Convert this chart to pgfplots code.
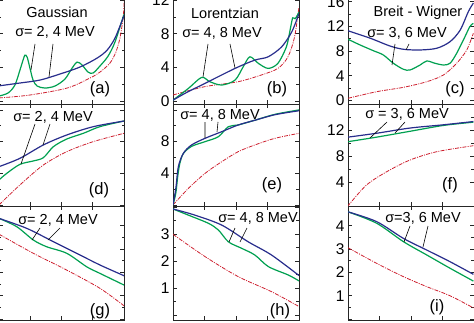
\documentclass[border=0pt]{standalone}
\usepackage{fontspec}
\setmainfont{Liberation Sans}
\usepackage{pgfplots}
\pgfplotsset{compat=1.18}
\definecolor{cb}{RGB}{40,45,140}
\definecolor{cg}{RGB}{0,160,80}
\definecolor{cr}{RGB}{205,30,45}
\pgfplotsset{
 pan/.style={scale only axis, xmin=0, xmax=4, xtick={0,1,2,3,4}, xticklabels={},
  tick align=inside, xtick pos=both, ytick pos=both, yticklabel pos=left,
  minor y tick num=1, major tick length=4pt, minor tick length=2.5pt,
  axis line style={line width=0.9pt, black!85},
  every tick/.style={black!85, line width=0.7pt},
  ticklabel style={font=\fontsize{15.5}{18}\selectfont},
  /pgf/number format/assume math mode=true,
  every axis plot/.append style={smooth, tension=0.5}},
 sb/.style={cb, line width=1.2pt},
 sg/.style={cg, line width=1.2pt},
 sr/.style={cr, line width=0.8pt, dash pattern=on 4pt off 1.2pt on 1pt off 1.2pt},
}
\begin{document}
\begin{tikzpicture}
\useasboundingbox (0,0) rectangle (474pt,322pt);
\clip (0,0) rectangle (474pt,322pt);
% (a)
\begin{axis}[pan, at={(-1pt,218pt)}, anchor=south west, width=125pt, height=112pt,
  ymin=-0.36, ymax=12.98, ytick={0,4,8,12}, yticklabels={}]
\addplot[sr] coordinates {(0,0.36)(0.99,0.71)(2.18,1.54)(2.91,2.73)(3.23,3.44)(3.55,4.51)(3.74,5.82)(3.87,7.48)(3.97,9.86)(4.0,11.4)(4.03,13.5)};
\addplot[sg] coordinates {(0,0.59)(0.29,0.95)(0.51,1.9)(0.67,3.68)(0.77,4.87)(0.83,5.46)(0.9,5.23)(0.99,3.92)(1.09,2.49)(1.22,1.78)(1.47,1.54)(1.79,1.78)(2.11,2.61)(2.34,3.92)(2.5,4.63)(2.66,4.28)(2.85,3.44)(3.01,3.33)(3.23,4.16)(3.49,5.34)(3.71,7.01)(3.97,9.98)(4.0,10.2)};
\addplot[sb] coordinates {(0,1.8)(0.67,2.14)(1.31,2.49)(1.95,3.21)(2.59,4.04)(3.14,5.11)(3.46,6.06)(3.71,7.48)(3.97,9.86)(4.0,10.2)};
\end{axis}
% (b)
\begin{axis}[pan, at={(173pt,218pt)}, anchor=south west, width=126pt, height=112pt,
  ymin=-0.36, ymax=12.98, ytick={0,4,8,12}]
\addplot[sr] coordinates {(0,0.71)(1.0,1.7)(2.06,2.29)(2.8,3.09)(3.33,3.88)(3.65,5.26)(3.86,7.64)(4.0,11.2)};
\addplot[sg] coordinates {(0,0.1)(0.49,1.5)(0.91,2.81)(1.17,2.29)(1.55,1.9)(1.97,2.49)(2.23,4.08)(2.44,5.26)(2.71,4.48)(3.02,3.88)(3.33,4.48)(3.6,6.45)(3.72,8.5)(3.8,9.9)(3.88,9.8)(4.0,10.6)};
\addplot[sb] coordinates {(0,0.1)(0.45,1.05)(0.91,1.9)(1.97,3.88)(2.6,4.87)(3.02,5.26)(3.45,6.45)(3.77,8.23)(3.98,10.2)(4,10.4)};
\end{axis}
% (c)
\begin{axis}[pan, at={(348pt,218pt)}, anchor=south west, width=126pt, height=112pt,
  ymin=-0.6, ymax=17.6, ytick={0,4,8,12,16}]
\addplot[sr] coordinates {(0,0.33)(0.91,1.4)(1.76,2.11)(2.5,3.02)(3.03,4.11)(3.45,6.02)(3.77,8.18)(3.98,10.9)};
\addplot[sg] coordinates {(0,9.92)(0.38,9.0)(0.8,8.07)(1.12,7.37)(1.44,6.02)(1.76,5.04)(1.97,4.93)(2.29,5.74)(2.5,6.39)(2.76,6.02)(3.03,5.74)(3.24,6.02)(3.45,7.64)(3.71,10.3)(3.87,12.0)(3.98,12.5)};
\addplot[sb] coordinates {(0,11.3)(0.7,10.1)(1.33,8.83)(1.76,8.29)(2.29,8.18)(2.82,8.46)(3.24,9.53)(3.56,11.4)(3.82,14.4)(3.98,15.8)};
\end{axis}
% (d)
\begin{axis}[pan, at={(-1pt,116pt)}, anchor=south west, width=125pt, height=102pt,
  ymin=-0.13, ymax=12.75, ytick={0,4,8,12}, yticklabels={}]
\addplot[sr] coordinates {(0,0)(0.67,2.53)(1.42,5.05)(2.17,6.73)(3.02,8.0)(4.0,9.05)};
\addplot[sg] coordinates {(0,3.16)(0.25,4.0)(0.67,5.13)(1.1,5.56)(1.42,5.97)(1.74,7.36)(2.17,8.33)(2.7,9.05)(3.23,9.89)(4.0,10.6)};
\addplot[sb] coordinates {(0,4.84)(0.67,5.89)(1.42,7.58)(2.17,8.84)(3.02,9.89)(4.0,10.6)};
\end{axis}
% (e)
\begin{axis}[pan, at={(173pt,116pt)}, anchor=south west, width=126pt, height=102pt,
  ymin=-0.13, ymax=12.75, ytick={0,4,8,12}, yticklabels={,4,8,}]
\addplot[sr] coordinates {(0,0)(0.49,2.1)(1.02,4.0)(1.55,5.47)(2.07,6.73)(2.6,7.58)(3.24,8.42)(4.0,9.05)};
\addplot[sg] coordinates {(0,0)(0.09,1.5)(0.15,3.6)(0.22,5.3)(0.33,6.5)(0.59,7.4)(1.02,8.0)(1.44,8.62)(1.76,9.89)(2.07,10.1)(2.6,10.7)(3.24,11.45)(4.0,12.0)};
\addplot[sb] coordinates {(0,0)(0.09,2.1)(0.17,4.84)(0.33,6.53)(0.59,7.58)(1.02,8.42)(1.55,9.26)(2.07,10.1)(2.6,10.7)(3.24,11.4)(4.0,11.9)};
\end{axis}
% (f)
\begin{axis}[pan, at={(348pt,116pt)}, anchor=south west, width=126pt, height=102pt,
  ymin=0.3, ymax=16, ytick={4,8,12,16}, yticklabels={4,8,12,}]
\addplot[sr] coordinates {(0,0.3)(0.04,0.57)(0.59,3.54)(1.23,5.58)(1.97,7.38)(2.82,8.66)(3.98,9.58)};
\addplot[sg] coordinates {(0,10.2)(0.91,10.9)(1.97,11.8)(3.03,12.7)(3.98,13.2)};
\addplot[sb] coordinates {(0,10.9)(0.91,11.5)(1.97,12.3)(3.03,12.8)(3.98,13.3)};
\end{axis}
% (g)
\begin{axis}[pan, at={(-1pt,2pt)}, anchor=south west, width=125pt, height=114pt,
  ymin=-0.04, ymax=4.85, ytick={0,1,2,3,4}, yticklabels={}]
\addplot[sr] coordinates {(0,3.64)(1.1,2.82)(2.17,2.1)(3.23,1.32)(4.0,0.57)};
\addplot[sg] coordinates {(0,4.32)(0.57,3.96)(1.1,3.39)(1.53,3.1)(2.17,2.82)(2.81,2.24)(3.23,1.96)(4.0,1.46)};
\addplot[sb] coordinates {(0,4.32)(0.89,3.89)(1.74,3.32)(2.59,2.75)(3.23,2.32)(4.0,1.86)};
\end{axis}
% (h)
\begin{axis}[pan, at={(173pt,2pt)}, anchor=south west, width=126pt, height=114pt,
  ymin=-0.19, ymax=4.04, ytick={0,1,2,3,4}, yticklabels={,1,2,3,}]
\addplot[sr] coordinates {(0,2.99)(1.02,2.16)(2.07,1.42)(3.13,0.86)(4.0,0.31)};
\addplot[sg] coordinates {(0,3.93)(0.49,3.7)(1.12,3.4)(1.44,3.15)(1.76,2.71)(2.18,2.47)(2.6,2.22)(3.03,1.79)(3.66,1.48)(4.0,1.26)};
\addplot[sb] coordinates {(0,3.93)(0.7,3.7)(1.55,3.33)(2.39,2.71)(3.13,2.22)(4.0,1.46)};
\end{axis}
% (i)
\begin{axis}[pan, at={(348pt,2pt)}, anchor=south west, width=126pt, height=114pt,
  ymin=-0.04, ymax=4.85, ytick={0,1,2,3,4}, yticklabels={,1,2,3,4}]
\addplot[sr] coordinates {(0,3.06)(0.91,2.39)(1.76,1.82)(2.5,1.39)(3.24,1.0)(3.98,0.48)};
\addplot[sg] coordinates {(0,4.6)(0.91,4.11)(1.76,3.32)(2.5,2.75)(3.24,2.18)(3.98,1.63)};
\addplot[sb] coordinates {(0,4.6)(0.91,4.18)(1.76,3.46)(2.5,2.96)(3.24,2.46)(3.98,1.92)};
\end{axis}
% annotations (pixel coordinates, y downward)
\begin{scope}[x=1pt, y=-1pt, shift={(0pt,322pt)}, font=\fontsize{14.5}{17}\selectfont]
\node at (57,12) {Gaussian};
\node at (55,32) {σ= 2, 4 MeV};
\node[font=\fontsize{16.5}{19}\selectfont] at (100,89) {(a)};
\draw[line width=0.6pt] (35,44) -- (31,70) (53,44) -- (49,77);
\node at (225,13) {Lorentzian};
\node at (222,33) {σ= 4, 8 MeV};
\node[font=\fontsize{16.5}{19}\selectfont] at (277,89) {(b)};
\draw[line width=0.6pt] (208,44) -- (203,77) (230,44) -- (235,68);
\node at (418,13) {Breit - Wigner};
\node at (407,33) {σ= 3, 6 MeV};
\node[font=\fontsize{16.5}{19}\selectfont] at (455,89) {(c)};
\draw[line width=0.6pt] (409,44) -- (406,50) (395,44) -- (392,65);
\node at (53,117) {σ= 2, 4 MeV};
\node[font=\fontsize{16.5}{19}\selectfont] at (99,190) {(d)};
\draw[line width=0.6pt] (35,124) -- (21,164) (50,124) -- (43,145);
\node at (220,115) {σ= 4, 8 MeV};
\node[font=\fontsize{16.5}{19}\selectfont] at (272,185) {(e)};
\draw[line width=0.6pt] (205,122) -- (205,138) (218,122) -- (217,132);
\node at (407,114) {σ = 3, 6 MeV};
\node[font=\fontsize{16.5}{19}\selectfont] at (450,185) {(f)};
\draw[line width=0.6pt] (387,122) -- (370,138) (405,122) -- (395,133);
\node at (58,220) {σ= 2, 4 MeV};
\node[font=\fontsize{16.5}{19}\selectfont] at (100,311) {(g)};
\draw[line width=0.6pt] (40,228) -- (32,240) (60,228) -- (48,240);
\node at (258,218) {σ= 4, 8 MeV};
\node[font=\fontsize{16.5}{19}\selectfont] at (280,311) {(h)};
\draw[line width=0.6pt] (235,228) -- (229,242) (247,228) -- (240,242);
\node at (423,218) {σ=3, 6 MeV};
\node[font=\fontsize{16.5}{19}\selectfont] at (437,307) {(i)};
\draw[line width=0.6pt] (410,226) -- (404,242) (428,226) -- (423,247);
\end{scope}
\end{tikzpicture}
\end{document}
